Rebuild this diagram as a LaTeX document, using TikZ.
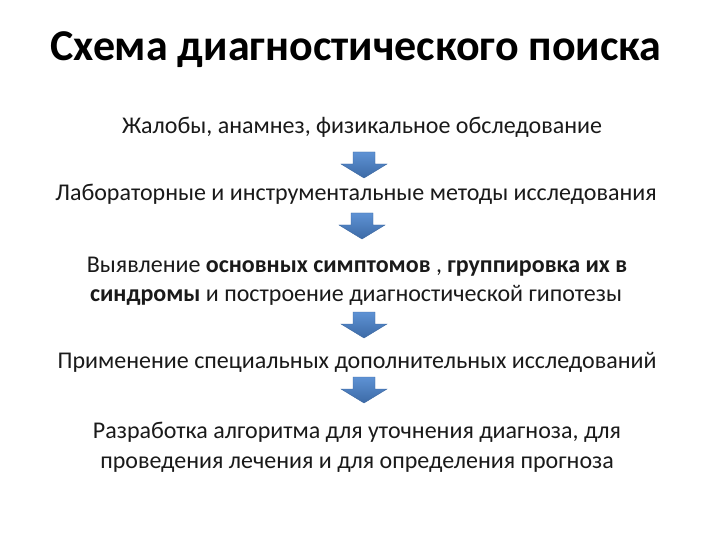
\documentclass[tikz,border=0pt]{standalone}
\usepackage{fontspec}
\setmainfont{Carlito}
\definecolor{txt}{HTML}{1A1A1A}
\definecolor{arrtop}{HTML}{5E92D4}
\definecolor{arrbot}{HTML}{3C6AA6}
\definecolor{arredge}{HTML}{3A66A0}
\begin{document}
\begin{tikzpicture}[x=1pt,y=-1pt,
  line/.style={anchor=base, font=\fontsize{24}{29}\selectfont, text=txt, inner sep=0pt},
  titlestyle/.style={anchor=base, font=\fontsize{44}{52}\selectfont\bfseries, text=black, inner sep=0pt},
  downarrow/.pic={\shade[top color=arrtop, bottom color=arrbot, draw=arredge, line width=0.4pt]
     (-11,0) -- (11,0) -- (11,12) -- (23,12) -- (0,26) -- (-23,12) -- (-11,12) -- cycle;}]
\useasboundingbox[fill=white] (0,0) rectangle (720,540);
\node[titlestyle] (title) at (356,61) {Схема диагностического поиска};
\node[line] (l1) at (362,134) {Жалобы, анамнез, физикальное обследование};
\node[line] (l2) at (356,201) {Лабораторные и инструментальные методы исследования};
\node[line] (l3a) at (357,272) {Выявление \textbf{основных симптомов} , \textbf{группировка их в}};
\node[line] (l3b) at (356,301) {\textbf{синдромы} и построение диагностической гипотезы};
\node[line] (l4) at (357,368) {Применение специальных дополнительных исследований};
\node[line] (l5a) at (357,438) {Разработка алгоритма для уточнения диагноза, для};
\node[line] (l5b) at (357,468) {проведения лечения и для определения прогноза};
\pic at (364,152) {downarrow};
\pic at (362,213) {downarrow};
\pic at (364,312) {downarrow};
\pic at (364,377) {downarrow};
\end{tikzpicture}
\end{document}
